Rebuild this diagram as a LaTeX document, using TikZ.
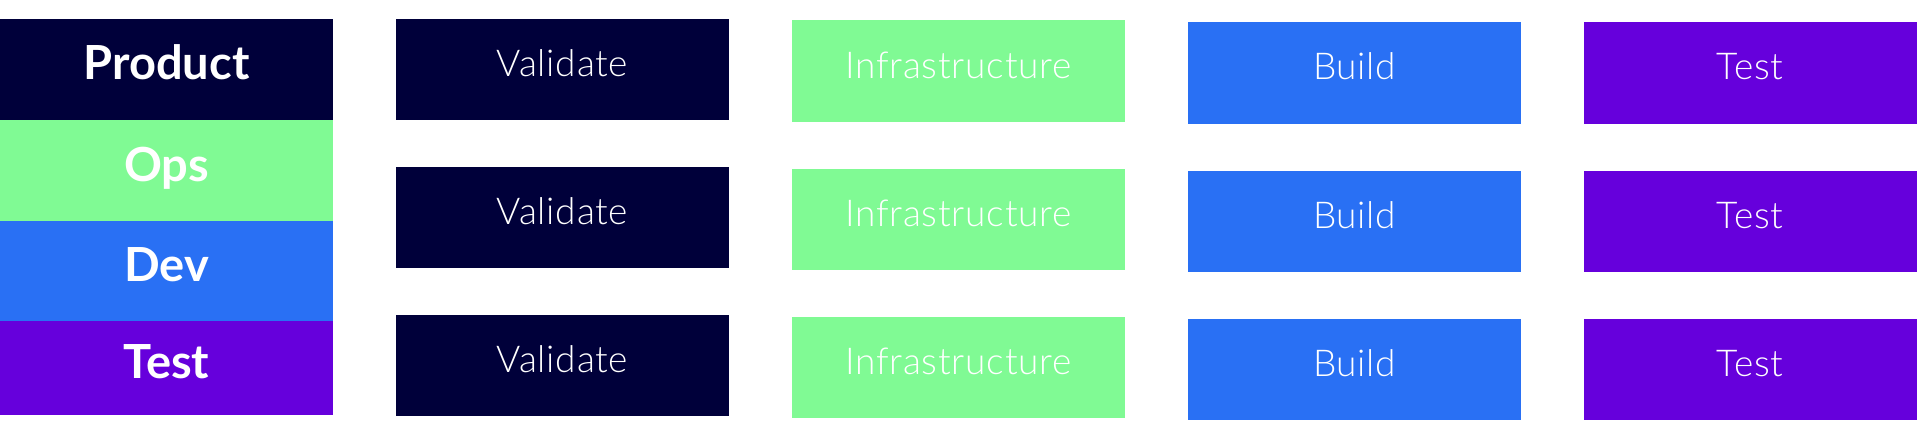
\documentclass[tikz,border=0pt]{standalone}
\usepackage{fontspec}
\setmainfont{Lato}
\newfontfamily\stagefont[LetterSpace=2]{Lato Light}
\usepackage{tikz}
\usetikzlibrary{positioning}
\definecolor{navy}{RGB}{0,0,58}
\definecolor{mint}{RGB}{128,250,148}
\definecolor{azure}{RGB}{41,112,244}
\definecolor{violet}{RGB}{102,0,220}
\tikzset{rolebox/.style={shape=rectangle,inner sep=0pt,outer sep=0pt,minimum width=333pt,
        text=white,font=\bfseries\fontsize{47}{50}\selectfont,text height=33pt,text depth=12pt},
        stagebox/.style={shape=rectangle,inner sep=0pt,outer sep=0pt,minimum width=333pt,
        minimum height=101pt,text=white,font=\stagefont\fontsize{37}{40}\selectfont,
        text height=26pt,text depth=12pt}}

\begin{document}
\begin{tikzpicture}[x=1pt,y=-1pt]
\useasboundingbox[fill=white] (0,0) rectangle (1920,436);
% roles
\node[rolebox,fill=navy,minimum height=101pt] (product) at (166.5,69.5) {Product};
\node[rolebox,fill=mint,minimum height=101pt,below=0pt of product] (ops) {Ops};
\node[rolebox,fill=azure,minimum height=100pt,below=0pt of ops] (dev) {Dev};
\node[rolebox,fill=violet,minimum height=94pt,below=0pt of dev] (test) {Test};
% stages, first row
\node[stagebox,fill=navy] (val1) at (562.5,69.5) {Validate};
\node[stagebox,fill=mint] (infra1) at (958.5,71) {Infrastructure};
\node[stagebox,fill=azure] (build1) at (1354.5,73) {Build};
\node[stagebox,fill=violet] (test1) at (1750,73) {Test};
% second row
\node[stagebox,fill=navy,below=47pt of val1] (val2) {Validate};
\node[stagebox,fill=mint,below=47pt of infra1] (infra2) {Infrastructure};
\node[stagebox,fill=azure,below=47pt of build1] (build2) {Build};
\node[stagebox,fill=violet,below=47pt of test1] (test2) {Test};
% third row
\node[stagebox,fill=navy,below=47pt of val2] (val3) {Validate};
\node[stagebox,fill=mint,below=47pt of infra2] (infra3) {Infrastructure};
\node[stagebox,fill=azure,below=47pt of build2] (build3) {Build};
\node[stagebox,fill=violet,below=47pt of test2] (test3) {Test};
\end{tikzpicture}
\end{document}
